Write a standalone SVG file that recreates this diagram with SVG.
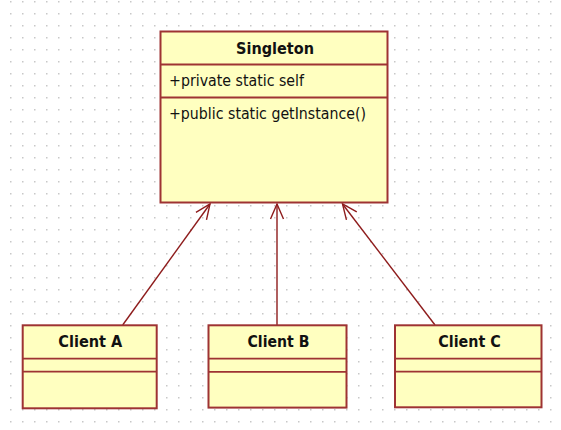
<svg xmlns="http://www.w3.org/2000/svg" width="561" height="430" viewBox="0 0 561 430">
  <defs>
    <pattern id="grid" x="10" y="1" width="12" height="12" patternUnits="userSpaceOnUse">
      <rect width="1.5" height="1.5" fill="#c8c8c8"/>
    </pattern>
    <marker id="open" viewBox="-16 -8 18 16" refX="0" refY="0" markerWidth="18" markerHeight="16" markerUnits="userSpaceOnUse" orient="auto">
      <path d="M-15,-6.5 L0,0 L-15,6.5" fill="none" stroke="#8e1c1c" stroke-width="1.4"/>
    </marker>
    <style>
      .box { fill: #ffffc0; stroke: #9e3333; stroke-width: 2; }
      .div { stroke: #9e3333; stroke-width: 1.8; }
      .title { font-family: "DejaVu Sans", Verdana, sans-serif; font-size: 15px; font-weight: bold; fill: #111; text-anchor: middle; }
      .member { font-family: "DejaVu Sans", Verdana, sans-serif; font-size: 15px; fill: #111; }
      .conn { stroke: #8e1c1c; stroke-width: 1.4; fill: none; marker-end: url(#open); }
    </style>
  </defs>
  <rect width="561" height="430" fill="#ffffff"/>
  <rect width="561" height="430" fill="url(#grid)"/>

  <g id="connectors">
    <line class="conn" x1="122.7" y1="325" x2="210" y2="204"/>
    <line class="conn" x1="277" y1="325" x2="277" y2="204"/>
    <line class="conn" x1="435" y1="325" x2="342.5" y2="204"/>
  </g>

  <g id="singleton">
    <rect class="box" x="160.5" y="31.5" width="227" height="171"/>
    <line class="div" x1="160.5" y1="64.5" x2="387.5" y2="64.5"/>
    <line class="div" x1="160.5" y1="97.5" x2="387.5" y2="97.5"/>
    <text class="title" x="275" y="53.5" textLength="78" lengthAdjust="spacingAndGlyphs">Singleton</text>
    <text class="member" x="169" y="85.5" textLength="135" lengthAdjust="spacingAndGlyphs">+private static self</text>
    <text class="member" x="169" y="119" textLength="197" lengthAdjust="spacingAndGlyphs">+public static getInstance()</text>
  </g>

  <g id="clientA">
    <rect class="box" x="22.7" y="325.3" width="134" height="83"/>
    <line class="div" x1="22.7" y1="358.7" x2="156.7" y2="358.7"/>
    <line class="div" x1="22.7" y1="371.7" x2="156.7" y2="371.7"/>
    <text class="title" x="90.3" y="346.7" textLength="64" lengthAdjust="spacingAndGlyphs">Client A</text>
  </g>

  <g id="clientB">
    <rect class="box" x="208.5" y="325.3" width="138" height="82.3"/>
    <line class="div" x1="208.5" y1="358.7" x2="346.5" y2="358.7"/>
    <line class="div" x1="208.5" y1="371.9" x2="346.5" y2="371.9"/>
    <text class="title" x="278.5" y="346.7" textLength="62" lengthAdjust="spacingAndGlyphs">Client B</text>
  </g>

  <g id="clientC">
    <rect class="box" x="395" y="325.3" width="146.5" height="82"/>
    <line class="div" x1="395" y1="358.7" x2="541.5" y2="358.7"/>
    <line class="div" x1="395" y1="371.7" x2="541.5" y2="371.7"/>
    <text class="title" x="469.5" y="346.7" textLength="62.5" lengthAdjust="spacingAndGlyphs">Client C</text>
  </g>
</svg>
